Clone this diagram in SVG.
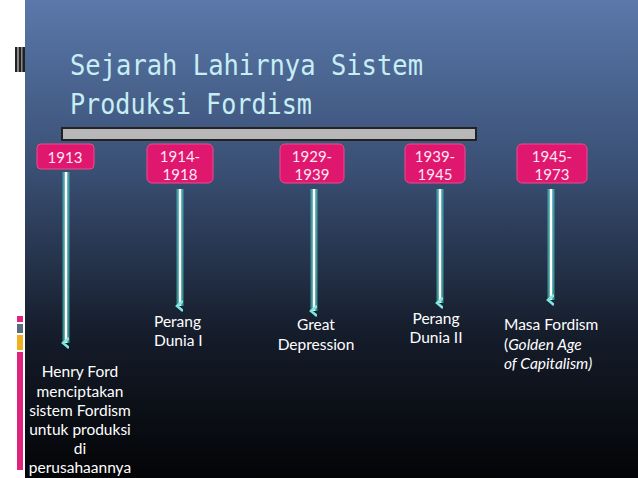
<svg xmlns="http://www.w3.org/2000/svg" width="638" height="478" viewBox="0 0 638 478">
<defs>
<linearGradient id="bg" x1="0" y1="0" x2="0" y2="1">
<stop offset="0" stop-color="#5a78aa"/><stop offset="0.35" stop-color="#3a5075"/><stop offset="0.7" stop-color="#151c2a"/><stop offset="1" stop-color="#030406"/>
</linearGradient>
<marker id="ah" markerWidth="12" markerHeight="9" refX="6" refY="3" orient="auto" markerUnits="userSpaceOnUse" viewBox="0 0 12 9">
<path d="M1,0 L6,6 L11,0" fill="none" stroke="#7fe8e0" stroke-width="2.5"/>
</marker>
</defs>
<style>
.yr{fill:#e0176e;stroke:#f04a90;stroke-width:1}
.yt{font-family:"Lato","Open Sans",sans-serif;font-size:15px;fill:#ffe8f2;text-anchor:middle}
.glow{stroke:#4fd8d0;stroke-width:7;opacity:0.6}
.core{stroke:#ffffff;stroke-width:2.5}
.lb{font-family:"Lato","Open Sans",sans-serif;font-size:15.5px;fill:#ffffff}
</style>
<rect width="638" height="478" fill="#ffffff"/>
<rect x="25" y="0" width="613" height="478" fill="url(#bg)"/>
<rect x="15" y="47" width="10" height="25" fill="#222"/>
<rect x="17" y="47" width="2" height="25" fill="#888"/>
<rect x="21" y="47" width="1.5" height="25" fill="#888"/>
<rect x="17" y="316" width="6" height="6" fill="#e0237c"/>
<rect x="17" y="324" width="6" height="9" fill="#5a6a80"/>
<rect x="17" y="335" width="6" height="15" fill="#f0b020"/>
<rect x="17" y="352" width="6" height="118" fill="#e0237c"/>
<g id="title" font-family="'DejaVu Sans Mono','Liberation Mono',monospace" font-size="29" fill="#c8eef5">
<text x="70" y="75" textLength="353" lengthAdjust="spacingAndGlyphs">Sejarah Lahirnya Sistem</text>
<text x="70" y="114" textLength="242" lengthAdjust="spacingAndGlyphs">Produksi Fordism</text>
</g>
<rect x="62" y="128" width="414" height="12" fill="#b8b8b8" stroke="#222" stroke-width="2"/>
<g id="connectors" fill="none">
<line class="glow" x1="66" y1="172" x2="66" y2="343"/><line class="core" x1="66" y1="172" x2="66" y2="343" marker-end="url(#ah)"/>
<line class="glow" x1="180" y1="189" x2="180" y2="306"/><line class="core" x1="180" y1="189" x2="180" y2="306" marker-end="url(#ah)"/>
<line class="glow" x1="314" y1="189" x2="314" y2="311"/><line class="core" x1="314" y1="189" x2="314" y2="311" marker-end="url(#ah)"/>
<line class="glow" x1="440" y1="189" x2="440" y2="303"/><line class="core" x1="440" y1="189" x2="440" y2="303" marker-end="url(#ah)"/>
<line class="glow" x1="551" y1="189" x2="551" y2="300"/><line class="core" x1="551" y1="189" x2="551" y2="300" marker-end="url(#ah)"/>
</g>
<g id="y1913"><rect class="yr" x="37" y="144" width="57" height="25" rx="4"/><text class="yt" x="65" y="163" font-size="17">1913</text></g>
<g id="y1914"><rect class="yr" x="147" y="144" width="66" height="39" rx="5"/><text class="yt" x="180" y="162">1914-</text><text class="yt" x="180" y="180">1918</text></g>
<g id="y1929"><rect class="yr" x="280" y="144" width="64" height="39" rx="5"/><text class="yt" x="312" y="162">1929-</text><text class="yt" x="312" y="180">1939</text></g>
<g id="y1939"><rect class="yr" x="405" y="144" width="60" height="39" rx="5"/><text class="yt" x="435" y="162">1939-</text><text class="yt" x="435" y="180">1945</text></g>
<g id="y1945"><rect class="yr" x="517" y="144" width="70" height="39" rx="5"/><text class="yt" x="552" y="162">1945-</text><text class="yt" x="552" y="180">1973</text></g>
<g id="l1913" class="lb" text-anchor="middle">
<text x="80" y="377">Henry Ford</text><text x="80" y="397">menciptakan</text><text x="80" y="416">sistem Fordism</text><text x="80" y="435">untuk produksi</text><text x="80" y="454">di</text><text x="80" y="473">perusahaannya</text>
</g>
<g id="lww1" class="lb"><text x="154" y="327">Perang</text><text x="154" y="346">Dunia I</text></g>
<g id="lgd" class="lb" text-anchor="middle"><text x="316" y="330">Great</text><text x="316" y="350">Depression</text></g>
<g id="lww2" class="lb" text-anchor="middle"><text x="436" y="324">Perang</text><text x="436" y="343">Dunia II</text></g>
<g id="lfd" class="lb"><text x="504" y="330">Masa Fordism</text><text x="504" y="350">(<tspan font-style="italic">Golden Age</tspan></text><text x="504" y="369" font-style="italic">of Capitalism)</text></g>
</svg>
